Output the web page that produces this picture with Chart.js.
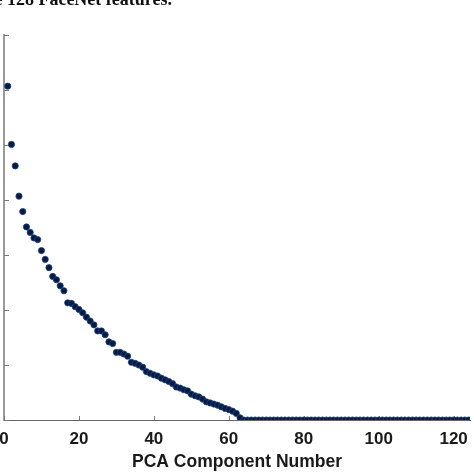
<!DOCTYPE html>
<html>
<head>
<meta charset="utf-8">
<style>
  html, body { margin: 0; padding: 0; background: #ffffff; }
  #wrap { width: 474px; height: 474px; }
</style>
<script src="https://cdn.jsdelivr.net/npm/chart.js@4.4.1/dist/chart.umd.min.js"></script>
</head>
<body>
<div id="wrap"><canvas id="pcaChart" width="474" height="474"></canvas></div>
<script>
//----------------------------- Data ------------------------------//
// variance of each PCA component, components 1..128
const varianceValues = [
  6.07, 5.01, 4.62, 4.07, 3.79, 3.51, 3.41, 3.31, 3.28, 3.08,
  2.92, 2.77, 2.61, 2.55, 2.44, 2.35, 2.13, 2.12, 2.06, 2.01,
  1.95, 1.87, 1.80, 1.73, 1.62, 1.62, 1.55, 1.42, 1.39, 1.23,
  1.23, 1.20, 1.16, 1.05, 1.03, 1.00, 0.96, 0.88, 0.85, 0.82,
  0.80, 0.76, 0.73, 0.70, 0.66, 0.60, 0.58, 0.55, 0.53, 0.47,
  0.44, 0.42, 0.38, 0.33, 0.31, 0.29, 0.27, 0.24, 0.21, 0.19,
  0.16, 0.12, 0.04, 0, 0, 0, 0, 0, 0, 0,
  0, 0, 0, 0, 0, 0, 0, 0, 0, 0,
  0, 0, 0, 0, 0, 0, 0, 0, 0, 0,
  0, 0, 0, 0, 0, 0, 0, 0, 0, 0,
  0, 0, 0, 0, 0, 0, 0, 0, 0, 0,
  0, 0, 0, 0, 0, 0, 0, 0, 0, 0,
  0, 0, 0, 0, 0, 0, 0, 0
];
const componentNumbers = varianceValues.map((v, i) => i + 1);
const xTickValues = [0, 20, 40, 60, 80, 100, 120];
const xAxisTitle = 'PCA Component Number';
const figureTitle = 'of the 128 FaceNet features.';
//------------------------------------------------------------------//

const points = componentNumbers.map((n, i) => ({x: n, y: varianceValues[i]}));

// MATLAB style ticks pointing into the plot
const innerTicks = {
  id: 'innerTicks',
  beforeDatasetsDraw(chart) {
    const ctx = chart.ctx, a = chart.chartArea;
    const xs = chart.scales.x, ys = chart.scales.y;
    ctx.save();
    ctx.strokeStyle = '#7a7a7a';
    ctx.lineWidth = 1;
    ctx.beginPath();
    xs.ticks.forEach(t => {
      const px = Math.round(xs.getPixelForValue(t.value)) + 0.5;
      ctx.moveTo(px, a.bottom);
      ctx.lineTo(px, a.bottom - 4);
    });
    ys.ticks.forEach(t => {
      const py = Math.round(ys.getPixelForValue(t.value)) + 0.5;
      ctx.moveTo(a.left, py);
      ctx.lineTo(a.left + 5, py);
    });
    ctx.stroke();
    ctx.restore();
  }
};

// figure caption, cut off by the top edge
const cutTitle = {
  id: 'cutTitle',
  afterDraw(chart) {
    const ctx = chart.ctx;
    ctx.save();
    ctx.font = 'bold 18px "Liberation Serif"';
    ctx.fillStyle = '#111111';
    ctx.textAlign = 'right';
    ctx.textBaseline = 'alphabetic';
    ctx.fillText(figureTitle, 172, 5);
    ctx.restore();
  }
};

const config = {
  type: 'scatter',
  data: {
    datasets: [{
      data: points,
      backgroundColor: '#071a40',
      borderColor: '#1d4288',
      borderWidth: 0.8,
      pointRadius: 3.1,
      pointHoverRadius: 3.1
    }]
  },
  options: {
    responsive: false,
    animation: false,
    layout: {padding: {left: 4, top: 35, right: 0, bottom: 0}},
    plugins: {
      legend: {display: false},
      tooltip: {enabled: false},
      title: {display: false}
    },
    scales: {
      x: {
        type: 'linear',
        min: 0,
        max: 124.4,
        afterBuildTicks(scale) {
          scale.ticks = xTickValues.map(v => ({value: v}));
        },
        afterFit(scale) {
          scale.height = 54;
          scale.paddingLeft = 0;
          scale.paddingRight = 0;
        },
        grid: {display: true, drawOnChartArea: false, drawTicks: false},
        border: {display: true, color: '#666666', width: 1},
        ticks: {
          color: '#1a1a1a',
          padding: 9,
          maxRotation: 0,
          font: {family: 'Liberation Sans', size: 17, weight: 'bold'}
        },
        title: {
          display: true,
          text: xAxisTitle,
          color: '#1a1a1a',
          padding: {top: 0, bottom: 1},
          font: {family: 'Liberation Sans', size: 17.5, weight: 'bold'}
        }
      },
      y: {
        type: 'linear',
        min: 0,
        max: 7,
        ticks: {display: false, stepSize: 1},
        afterFit(scale) {
          scale.width = 0;
        },
        grid: {display: true, drawOnChartArea: false, drawTicks: false},
        border: {display: true, color: '#9a9a9a', width: 2}
      }
    }
  },
  plugins: [innerTicks, cutTitle]
};

const pcaChart = new Chart(document.getElementById('pcaChart'), config);
</script>
</body>
</html>
